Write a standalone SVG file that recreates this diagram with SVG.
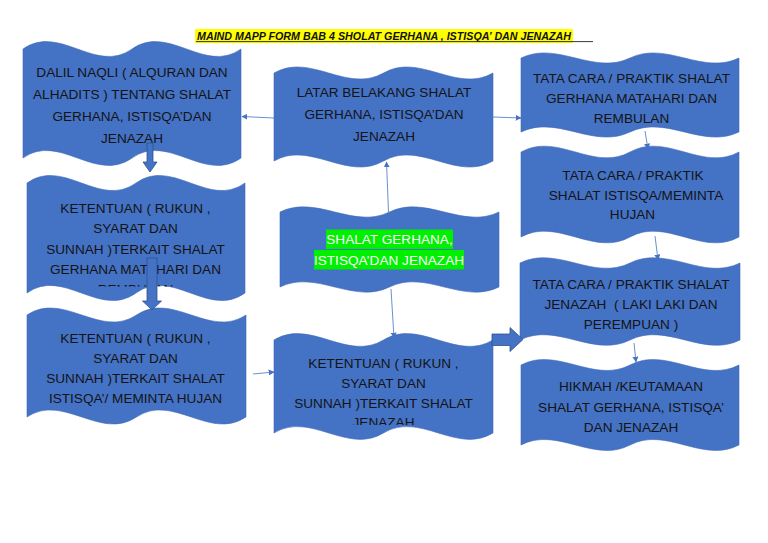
<svg xmlns="http://www.w3.org/2000/svg" width="768" height="543" viewBox="0 0 768 543">
<style>
.box{fill:#4472C4;stroke:#4169b8;stroke-width:0.6}
.t{font-family:"Liberation Sans",Arial,sans-serif;font-size:13.6px;fill:#141414;text-anchor:middle}
.w{fill:#ffffff}
.hl{fill:#00F000}
.ln{stroke:#4472C4;stroke-width:0.8;fill:none;marker-end:url(#ah)}
.blk{fill:#4472C4;stroke:#2F528F;stroke-width:0.8}
.title{font-family:"Liberation Sans",Arial,sans-serif;font-size:10.6px;font-weight:bold;font-style:italic;fill:#111}
</style>
<defs>
<marker id="ah" viewBox="0 0 10 10" refX="9" refY="5" markerWidth="6" markerHeight="6" markerUnits="userSpaceOnUse" orient="auto">
<path d="M0,0 L10,5 L0,10 Z" fill="#4472C4"/>
</marker>
<clipPath id="clipB"><rect x="27" y="190" width="218" height="96.5"/></clipPath>
<clipPath id="clipF"><rect x="274" y="345" width="219" height="80"/></clipPath>
</defs>
<rect width="768" height="543" fill="#ffffff"/>

<g id="title">
<rect x="195" y="29" width="378" height="14" fill="#FFFF00"/>
<text class="title" x="197" y="39.5" textLength="374" lengthAdjust="spacingAndGlyphs">MAIND MAPP FORM BAB 4 SHOLAT GERHANA , ISTISQA’ DAN JENAZAH</text>
<line x1="196" y1="41.6" x2="593" y2="41.6" stroke="#222" stroke-width="0.9"/>
</g>

<g id="node-dalil">
<path class="box" d="M23,49 C59.33,23.05 95.67,74.95 132,49 C168.33,23.05 204.67,74.95 241,49 L241,158 C204.67,183.95 168.33,132.05 132,158 C95.67,183.95 59.33,132.05 23,158 Z"/>
<text class="t" x="132" y="77">DALIL NAQLI ( ALQURAN DAN</text>
<text class="t" x="132" y="99">ALHADITS ) TENTANG SHALAT</text>
<text class="t" x="132" y="121">GERHANA, ISTISQA’DAN</text>
<text class="t" x="132" y="142.5">JENAZAH</text>
</g>

<g id="node-ketentuan-gerhana">
<path class="box" d="M27,183 C63.33,156.81 99.67,209.19 136,183 C172.33,156.81 208.67,209.19 245,183 L245,293 C208.67,319.19 172.33,266.81 136,293 C99.67,319.19 63.33,266.81 27,293 Z"/>
<g clip-path="url(#clipB)">
<text class="t" x="135.5" y="212.5">KETENTUAN ( RUKUN ,</text>
<text class="t" x="135.5" y="233">SYARAT DAN</text>
<text class="t" x="135.5" y="253.5">SUNNAH )TERKAIT SHALAT</text>
<text class="t" x="135.5" y="273.5">GERHANA MATAHARI DAN</text>
<text class="t" x="135.5" y="293.5">REMBULAN</text>
</g>
</g>

<g id="node-ketentuan-istisqa">
<path class="box" d="M27,315 C63.5,290.71 100,339.29 136.5,315 C173,290.71 209.5,339.29 246,315 L246,417 C209.5,441.29 173,392.71 136.5,417 C100,441.29 63.5,392.71 27,417 Z"/>
<text class="t" x="135.5" y="342.5">KETENTUAN ( RUKUN ,</text>
<text class="t" x="135.5" y="362.5">SYARAT DAN</text>
<text class="t" x="135.5" y="383">SUNNAH )TERKAIT SHALAT</text>
<text class="t" x="135.5" y="402.5">ISTISQA’/ MEMINTA HUJAN</text>
</g>

<g id="node-latar">
<path class="box" d="M274,73 C310.5,52.05 347,93.95 383.5,73 C420,52.05 456.5,93.95 493,73 L493,161 C456.5,181.95 420,140.05 383.5,161 C347,181.95 310.5,140.05 274,161 Z"/>
<text class="t" x="384" y="97">LATAR BELAKANG SHALAT</text>
<text class="t" x="384" y="119">GERHANA, ISTISQA’DAN</text>
<text class="t" x="384" y="141">JENAZAH</text>
</g>

<g id="node-shalat">
<path class="box" d="M280,212 C316.5,194.14 353,229.86 389.5,212 C426,194.14 462.5,229.86 499,212 L499,287 C462.5,304.86 426,269.14 389.5,287 C353,304.86 316.5,269.14 280,287 Z"/>
<rect class="hl" x="326" y="229.5" width="127" height="19.5"/>
<rect class="hl" x="314" y="250" width="150" height="19.5"/>
<text class="t w" x="389.5" y="244">SHALAT GERHANA,</text>
<text class="t w" x="389" y="265">ISTISQA’DAN JENAZAH</text>
</g>

<g id="node-ketentuan-jenazah">
<path class="box" d="M274,340 C310.5,317.86 347,362.14 383.5,340 C420,317.86 456.5,362.14 493,340 L493,433 C456.5,455.14 420,410.86 383.5,433 C347,455.14 310.5,410.86 274,433 Z"/>
<g clip-path="url(#clipF)">
<text class="t" x="383.5" y="368">KETENTUAN ( RUKUN ,</text>
<text class="t" x="383.5" y="388">SYARAT DAN</text>
<text class="t" x="383.5" y="407.5">SUNNAH )TERKAIT SHALAT</text>
<text class="t" x="383.5" y="426.5">JENAZAH</text>
</g>
</g>

<g id="node-tata-gerhana">
<path class="box" d="M521,58 C557.33,40.38 593.67,75.62 630,58 C666.33,40.38 702.67,75.62 739,58 L739,132 C702.67,149.62 666.33,114.38 630,132 C593.67,149.62 557.33,114.38 521,132 Z"/>
<text class="t" x="631.5" y="83">TATA CARA / PRAKTIK SHALAT</text>
<text class="t" x="631.5" y="103">GERHANA MATAHARI DAN</text>
<text class="t" x="631.5" y="123">REMBULAN</text>
</g>

<g id="node-tata-istisqa">
<path class="box" d="M521,152 C557.33,131.76 593.67,172.24 630,152 C666.33,131.76 702.67,172.24 739,152 L739,237 C702.67,257.24 666.33,216.76 630,237 C593.67,257.24 557.33,216.76 521,237 Z"/>
<text class="t" x="633" y="180">TATA CARA / PRAKTIK</text>
<text class="t" x="636" y="200">SHALAT ISTISQA/MEMINTA</text>
<text class="t" x="632.5" y="219">HUJAN</text>
</g>

<g id="node-tata-jenazah">
<path class="box" d="M520,263 C556.67,244.67 593.33,281.33 630,263 C666.67,244.67 703.33,281.33 740,263 L740,340 C703.33,358.33 666.67,321.67 630,340 C593.33,358.33 556.67,321.67 520,340 Z"/>
<text class="t" x="631" y="289">TATA CARA / PRAKTIK SHALAT</text>
<text class="t" x="631" y="309" xml:space="preserve">JENAZAH  ( LAKI LAKI DAN</text>
<text class="t" x="631" y="329">PEREMPUAN )</text>
</g>

<g id="node-hikmah">
<path class="box" d="M521,365 C557.33,345.95 593.67,384.05 630,365 C666.33,345.95 702.67,384.05 739,365 L739,445 C702.67,464.05 666.33,425.95 630,445 C593.67,464.05 557.33,425.95 521,445 Z"/>
<text class="t" x="631" y="390.5">HIKMAH /KEUTAMAAN</text>
<text class="t" x="631" y="411.5">SHALAT GERHANA, ISTISQA’</text>
<text class="t" x="631" y="431.5">DAN JENAZAH</text>
</g>

<g id="connectors">
<line class="ln" x1="274" y1="118" x2="242" y2="116.5"/>
<line class="ln" x1="493" y1="117" x2="521" y2="118"/>
<line class="ln" x1="388.5" y1="212" x2="386.5" y2="162"/>
<line class="ln" x1="391" y1="289" x2="394" y2="338"/>
<line class="ln" x1="645" y1="131" x2="648" y2="149"/>
<line class="ln" x1="655" y1="236" x2="658" y2="260"/>
<line class="ln" x1="634" y1="343" x2="636" y2="362"/>
<line class="ln" x1="253" y1="374" x2="274" y2="372"/>
<polygon class="blk" points="147,143 153,143 153,162 157,162 150,172 143,162 147,162"/>
<polygon class="blk" points="147,258 157,258 157,301 161.5,301 152,310 142.5,301 147,301"/>
<polygon class="blk" points="492,334 510,334 510,327.5 523,339.5 510,351.5 510,345.5 492,345.5"/>
</g>
</svg>
